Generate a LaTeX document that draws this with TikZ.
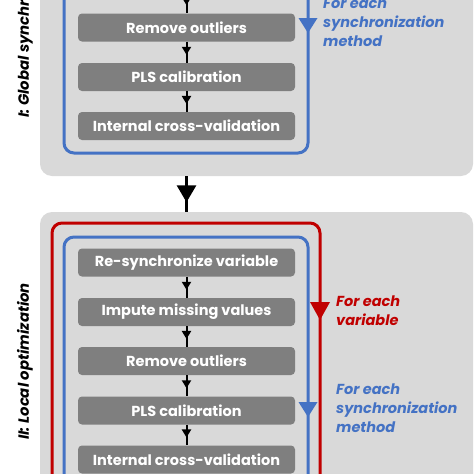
\documentclass[tikz,border=0pt]{standalone}
\usepackage{fontspec}
\setmainfont{Poppins}
\usetikzlibrary{arrows.meta,decorations.markings}
\definecolor{panelc}{HTML}{D9D9D9}
\definecolor{boxc}{HTML}{7F7F7F}
\definecolor{bluec}{HTML}{4472C4}
\definecolor{redc}{HTML}{C00000}
\tikzset{
  panel/.style={fill=panelc, rounded corners=12pt},
  blueloop/.style={draw=bluec, line width=3pt, rounded corners=10pt},
  redloop/.style={draw=redc, line width=3pt, rounded corners=10pt},
  stepbox/.style={fill=boxc, rounded corners=4pt, minimum width=217pt, minimum height=28pt, inner sep=0pt, text=white, font=\fontsize{14.5}{16}\selectfont\bfseries},
  flow/.style={line width=2pt, postaction={decorate}, decoration={markings, mark=at position 0.62 with {\arrow{Triangle[width=9pt,length=8pt]}}}},
  bigflow/.style={line width=3pt, postaction={decorate}, decoration={markings, mark=at position 0.73 with {\arrow{Triangle[width=19pt,length=17pt]}}}},
  looplabel/.style={align=left, inner sep=0pt, anchor=west, font=\fontsize{14.5}{19}\selectfont\bfseries\itshape},
  sidelabel/.style={rotate=90, anchor=west, inner sep=0pt, font=\fontsize{14.8}{17}\selectfont\bfseries\itshape}
}
\begin{document}
\begin{tikzpicture}[x=1pt,y=-1pt]
\useasboundingbox (0,0) rectangle (474,474);
\clip (0,0) rectangle (474,474);
% panels
\fill[panel] (40,-40) rectangle (473,176);
\fill[panel] (40,212) rectangle (473,520);
% loops
\draw[blueloop] (64,-40) rectangle (308,153);
\draw[redloop] (52,223) rectangle (320,520);
\draw[blueloop] (64,237) rectangle (308,520);
\fill[bluec] (298.5,18) -- (317.5,18) -- (308,33) -- cycle;
\fill[bluec] (298.5,402) -- (317.5,402) -- (308,417) -- cycle;
\fill[redc] (310,302) -- (330,302) -- (320,320) -- cycle;
% side labels
\node[sidelabel] (s1) at (25,118) {I: Global synchronization};
\node[sidelabel] (s2) at (25,440) {II: Local optimization};
% loop labels
\node[looplabel, text=bluec] (l1) at (323,22) {For each\\synchronization\\method};
\node[looplabel, text=redc] (l2) at (336,311) {For each\\variable};
\node[looplabel, text=bluec] (l3) at (336,408) {For each\\synchronization\\method};
% top panel boxes
\coordinate (t0) at (186.5,-8);
\node[stepbox] (a1) at (186.5,27.5) {Remove outliers};
\node[stepbox] (a2) at (186.5,77) {PLS calibration};
\node[stepbox] (a3) at (186.5,126) {Internal cross-validation};
\draw[flow] (t0) -- (a1.north);
\draw[flow] (a1.south) -- (a2.north);
\draw[flow] (a2.south) -- (a3.north);
% between panels
\coordinate (p1) at (186.5,176);
\coordinate (p2) at (186.5,212);
\draw[bigflow] (p1) -- (p2);
% bottom panel boxes
\node[stepbox] (b1) at (186.5,262.5) {Re-synchronize variable};
\node[stepbox] (b2) at (186.5,312) {Impute missing values};
\node[stepbox] (b3) at (186.5,361) {Remove outliers};
\node[stepbox] (b4) at (186.5,410.5) {PLS calibration};
\node[stepbox] (b5) at (186.5,459.5) {Internal cross-validation};
\draw[flow] (b1.south) -- (b2.north);
\draw[flow] (b2.south) -- (b3.north);
\draw[flow] (b3.south) -- (b4.north);
\draw[flow] (b4.south) -- (b5.north);
\end{tikzpicture}
\end{document}
